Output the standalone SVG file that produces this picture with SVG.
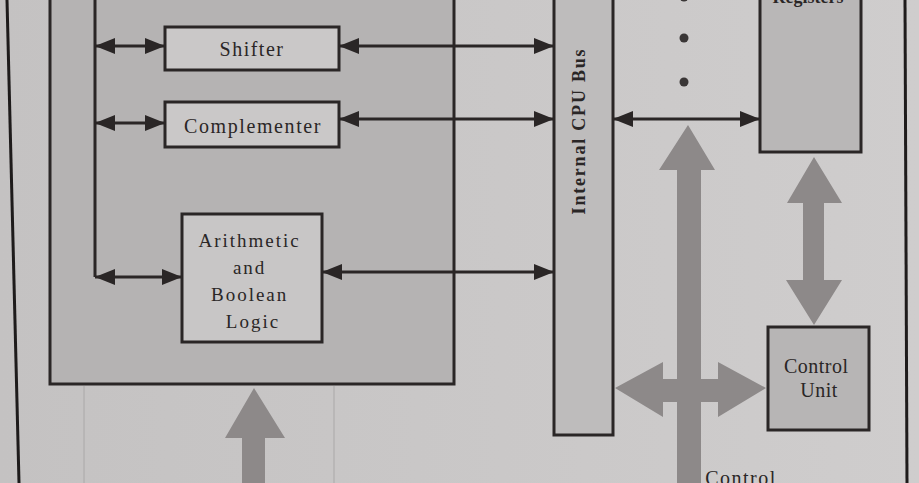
<svg xmlns="http://www.w3.org/2000/svg" width="919" height="483" viewBox="0 0 919 483">
<style>
.box{stroke:#2a2626;stroke-width:3}
.lbl{font-family:"Liberation Serif","Times New Roman",serif;fill:#2a2626;text-anchor:middle}
.conn{stroke:#2a2626;stroke-width:3;fill:none}
.big{fill:#8d8989}
.faint{stroke:#aaa8a8;stroke-width:1}
</style>
<defs>
<linearGradient id="pg" x1="0" y1="0" x2="1" y2="0">
<stop offset="0" stop-color="#c4c2c2"/>
<stop offset="1" stop-color="#cfcdcd"/>
</linearGradient>
<marker id="ah" viewBox="0 0 20 16" refX="20" refY="8" markerWidth="20" markerHeight="16" markerUnits="userSpaceOnUse" orient="auto-start-reverse">
<path d="M0,0 L20,8 L0,16 z" fill="#2a2626"/>
</marker>
</defs>
<rect x="0" y="0" width="919" height="483" fill="url(#pg)"/>
<line x1="7" y1="0" x2="19" y2="483" stroke="#1e1b1b" stroke-width="3"/>
<line x1="905" y1="0" x2="907" y2="483" stroke="#1e1b1b" stroke-width="3"/>
<line class="faint" x1="334" y1="386" x2="334" y2="483"/>
<line class="faint" x1="84" y1="386" x2="84" y2="483"/>

<g id="alu">
<rect class="box" x="50" y="-10" width="404" height="394" fill="#b5b3b3"/>
</g>
<g id="shifter">
<rect class="box" x="165" y="27" width="174" height="43" fill="#cac8c8"/>
<text class="lbl" x="252" y="56" font-size="20" letter-spacing="1.5">Shifter</text>
</g>
<g id="complementer">
<rect class="box" x="165" y="102" width="174" height="45" fill="#cac8c8"/>
<text class="lbl" x="253" y="133" font-size="20" letter-spacing="1.6">Complementer</text>
</g>
<g id="arith">
<rect class="box" x="182" y="214" width="140" height="128" fill="#c8c6c6"/>
<text class="lbl" font-size="19" letter-spacing="2">
<tspan x="253" y="247">Arithmetic</tspan>
<tspan x="253" y="274">and</tspan>
<tspan x="253" y="301">Boolean</tspan>
<tspan x="253" y="328">Logic</tspan>
</text>
</g>
<g id="bus">
<rect class="box" x="554" y="-10" width="59" height="445" fill="#bebcbc"/>
<text class="lbl" transform="translate(585,131) rotate(-90)" x="0" y="0" font-size="18" font-weight="bold" letter-spacing="1.8">Internal CPU Bus</text>
</g>
<g id="registers">
<rect class="box" x="760" y="-10" width="101" height="162" fill="#b9b7b7"/>
<text class="lbl" x="808" y="3" font-size="18" font-weight="bold">Registers</text>
</g>
<g id="control-unit">
<rect class="box" x="768" y="327" width="101" height="103" fill="#b7b5b5"/>
<text class="lbl" font-size="20" letter-spacing="0.5">
<tspan x="819" y="373">Control</tspan>
<tspan x="819" y="397">Unit</tspan>
</text>
</g>
<g id="dots" fill="#3a3636">
<circle cx="684" cy="-3" r="4.5"/>
<circle cx="684" cy="38" r="4.5"/>
<circle cx="684" cy="82" r="4.5"/>
</g>
<text class="lbl" x="741" y="485" font-size="20" letter-spacing="1.5">Control</text>

<g id="connectors">
<path class="conn" d="M95,-5 V277"/>
<line class="conn" x1="95" y1="46" x2="165" y2="46" marker-start="url(#ah)" marker-end="url(#ah)"/>
<line class="conn" x1="95" y1="123" x2="165" y2="123" marker-start="url(#ah)" marker-end="url(#ah)"/>
<line class="conn" x1="95" y1="277" x2="182" y2="277" marker-start="url(#ah)" marker-end="url(#ah)"/>
<line class="conn" x1="339" y1="46" x2="554" y2="46" marker-start="url(#ah)" marker-end="url(#ah)"/>
<line class="conn" x1="339" y1="119" x2="554" y2="119" marker-start="url(#ah)" marker-end="url(#ah)"/>
<line class="conn" x1="322" y1="272" x2="554" y2="272" marker-start="url(#ah)" marker-end="url(#ah)"/>
<line class="conn" x1="613" y1="119" x2="760" y2="119" marker-start="url(#ah)" marker-end="url(#ah)"/>
<polygon class="big" points="688,125 715,170 701,170 701,483 677,483 677,170 659,170"/>
<polygon class="big" points="615,388 663,362 663,379 718,379 718,362 766,388 718,417 718,402 663,402 663,417"/>
<polygon class="big" points="814,157 842,203 824,203 824,280 842,280 814,325 786,280 803,280 803,203 787,203"/>
<polygon class="big" points="254,388 285,438 265,438 265,483 242,483 242,438 225,438"/>
</g>
</svg>
